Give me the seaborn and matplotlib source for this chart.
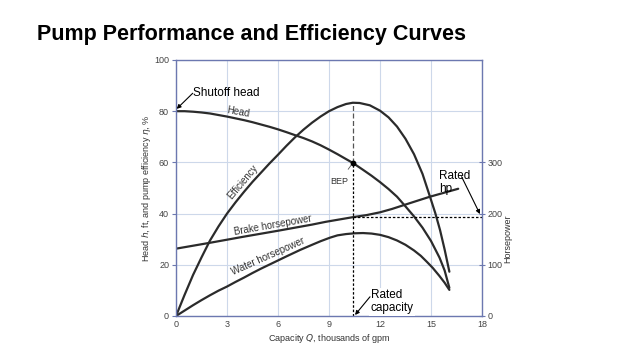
import numpy as np
import pandas as pd
import seaborn as sns
import matplotlib
matplotlib.use("Agg")
import matplotlib.pyplot as plt

# curves (x in thousands of gpm, y in ft / % / hp/5)
head_q = [0, 0.5, 1, 1.5, 2, 2.5, 3, 3.5, 4, 4.5, 5, 5.5, 6, 6.5, 7.06, 7.5, 8,
          8.5, 9, 9.5, 10, 10.4, 11, 11.5, 12, 12.5, 13, 13.5, 14, 14.5, 15,
          15.5, 15.8, 16.08]
head_h = [80, 80, 79.8, 79.5, 79.1, 78.5, 77.9, 77.2, 76.5, 75.7, 74.8, 73.9,
          72.9, 71.8, 70.5, 69.5, 68.2, 66.7, 65, 63.2, 61.3, 59.8, 57.1, 54.8,
          52.3, 49.6, 46.6, 42.8, 38.9, 34.5, 29.3, 22.8, 17.8, 11]

eff_q = [0, 0.5, 1, 1.5, 2, 2.5, 3, 3.5, 4, 4.5, 5, 5.5, 6, 6.5, 7, 7.5, 8,
         8.5, 9, 9.5, 10, 10.4, 10.8, 11.4, 12, 12.5, 13, 13.5, 14, 14.5,
         14.94, 15.25, 15.53, 15.8, 16.08]
eff_e = [0, 8.2, 16, 22.9, 29.5, 35, 40, 44.4, 48.5, 52.4, 56, 59.6, 63, 66.5,
         69.8, 72.8, 75.5, 77.9, 80, 81.6, 82.8, 83.3, 83.2, 82.3, 80.2, 77.6,
         74, 69.2, 63.2, 55.5, 46.6, 40.2, 33.6, 26, 17.3]

bhp_q = [0, 2, 4, 6, 8, 8.82, 10.4, 11.2, 12, 12.7, 13.3, 14, 14.94, 15.8, 16.6]
bhp_p = [26.3, 28.6, 31, 33.3, 35.7, 36.8, 38.6, 39.4, 40.5, 41.8, 43.1, 44.6,
         46.6, 48.2, 49.7]

whp_q = [0, 0.5, 1, 1.5, 2, 2.5, 3, 3.5, 4, 4.5, 5, 5.5, 6, 6.5, 7.3, 8, 8.5,
         9.06, 9.5, 10, 10.5, 11, 11.5, 12, 12.5, 13, 13.5, 14, 14.4, 14.75,
         15.1, 15.5, 15.8, 16.08]
whp_p = [0, 2.1, 4.2, 6.2, 8.1, 9.9, 11.5, 13.3, 15, 16.8, 18.5, 20.1, 21.7,
         23.3, 25.8, 27.8, 29.2, 30.6, 31.5, 32, 32.3, 32.4, 32.2, 31.7, 30.8,
         29.5, 27.8, 25.6, 23.5, 21.2, 18.8, 15.6, 13, 10.2]

bep_q = 10.4
bep_h = 59.8
eff_peak = 83.3
rated_hp = 38.5

x_ticks = [0, 3, 6, 9, 12, 15, 18]
y_ticks = [0, 20, 40, 60, 80, 100]
hp_ticks = [0, 100, 200, 300]

sns.set_style("white")
plt.rcParams["font.family"] = ["Liberation Sans", "DejaVu Sans"]

fig = plt.figure(figsize=(6.38, 3.59), dpi=100)
ax = fig.add_axes([0.2759, 0.1198, 0.4796, 0.7131])

frames = []
for name, q, v in [("Head", head_q, head_h), ("Efficiency", eff_q, eff_e),
                   ("Brake", bhp_q, bhp_p), ("Water", whp_q, whp_p)]:
    frames.append(pd.DataFrame({"q": q, "v": v, "curve": name}))
data = pd.concat(frames)

line_col = "#2b2b2b"
for name, d in data.groupby("curve", sort=False):
    sns.lineplot(x="q", y="v", data=d, color=line_col, lw=1.6,
                 sort=True, estimator=None, ax=ax)

# BEP guide lines
ax.plot([bep_q, bep_q], [bep_h, eff_peak], color="#555555", lw=0.9, ls=(0, (4, 2)))
ax.plot([bep_q, bep_q], [0, bep_h], color="black", lw=0.9, ls=(0, (2, 1.5)))
ax.plot([bep_q, 18], [rated_hp, rated_hp], color="black", lw=0.9, ls=(0, (2, 1.5)))
ax.scatter([bep_q], [bep_h], s=10, color="black", zorder=5)

spine_col = "#6c78b0"
ax.set_xlim(0, 18)
ax.set_ylim(0, 100)
ax.set_xticks(x_ticks)
ax.set_yticks(y_ticks)
ax.grid(True, color="#cdd8ea", lw=0.8)
for s in ax.spines.values():
    s.set_color(spine_col)
    s.set_linewidth(1.0)
ax.tick_params(axis="x", direction="in", length=3, color=spine_col,
               labelsize=6.5, labelcolor="#444444", pad=3)
ax.tick_params(axis="y", direction="out", length=3, color=spine_col,
               labelsize=6.5, labelcolor="#444444", pad=2)
ax.set_xlabel(r"Capacity $Q$, thousands of gpm", fontsize=6.5, color="#333333", labelpad=2)
ax.set_ylabel(r"Head $h$, ft, and pump efficiency $\eta$, %", fontsize=6.5,
              color="#333333")
ax.yaxis.set_label_coords(-0.075, 0.5)

ax2 = ax.twinx()
ax2.set_ylim(0, 500)
ax2.set_yticks(hp_ticks)
ax2.tick_params(axis="y", direction="inout", length=4, color=spine_col,
                labelsize=6.5, labelcolor="#444444", pad=2)
for s in ax2.spines.values():
    s.set_visible(False)
ax2.set_ylabel("Horsepower", fontsize=6.5, color="#333333")
ax2.yaxis.set_label_coords(1.07, 0.3)
ax2.grid(False)

# curve labels
lab = dict(fontsize=7, color="#333333", ha="center", va="center",
           rotation_mode="anchor")
ax.text(3.63, 79.6, "Head", rotation=-10, **lab)
ax.text(3.92, 52.5, "Efficiency", rotation=50, **lab)
ax.text(5.69, 35.4, "Brake horsepower", rotation=10, **lab)
ax.text(5.44, 23.2, "Water horsepower", rotation=24, **lab)
ax.annotate("BEP", xy=(bep_q, bep_h), xytext=(9.6, 52.5), fontsize=6.5,
            color="#333333", ha="center", va="center",
            arrowprops=dict(arrowstyle="-", color="#555555", lw=0.6,
                            shrinkA=4, shrinkB=1))

# call-outs: text and arrow drawn separately
arr = dict(arrowstyle="-|>", color="black", lw=0.8, mutation_scale=6,
           shrinkA=0, shrinkB=0)
call = dict(fontsize=8.5, ha="left", linespacing=1.1, color="black")
ax.text(1.0, 87.3, "Shutoff head", va="center", **call)
ax.annotate("", xy=(0.04, 80.9), xytext=(0.98, 87.0), arrowprops=arr,
            annotation_clip=False)

ax.text(15.45, 52.3, "Rated\nhp", va="center", **call)
ax.annotate("", xy=(17.88, 39.8), xytext=(16.8, 54.4), arrowprops=arr,
            annotation_clip=False)

ax.text(11.45, 5.5, "Rated\ncapacity", va="center",
        bbox=dict(boxstyle="square,pad=0.15", fc="white", ec="none"), **call)
ax.annotate("", xy=(10.53, 0.4), xytext=(11.41, 7.5), arrowprops=arr,
            annotation_clip=False)

fig.text(0.058, 0.905, "Pump Performance and Efficiency Curves", fontsize=15.5,
         fontweight="bold", ha="left", va="center", color="black")

fig.savefig("out.png", dpi=100)
